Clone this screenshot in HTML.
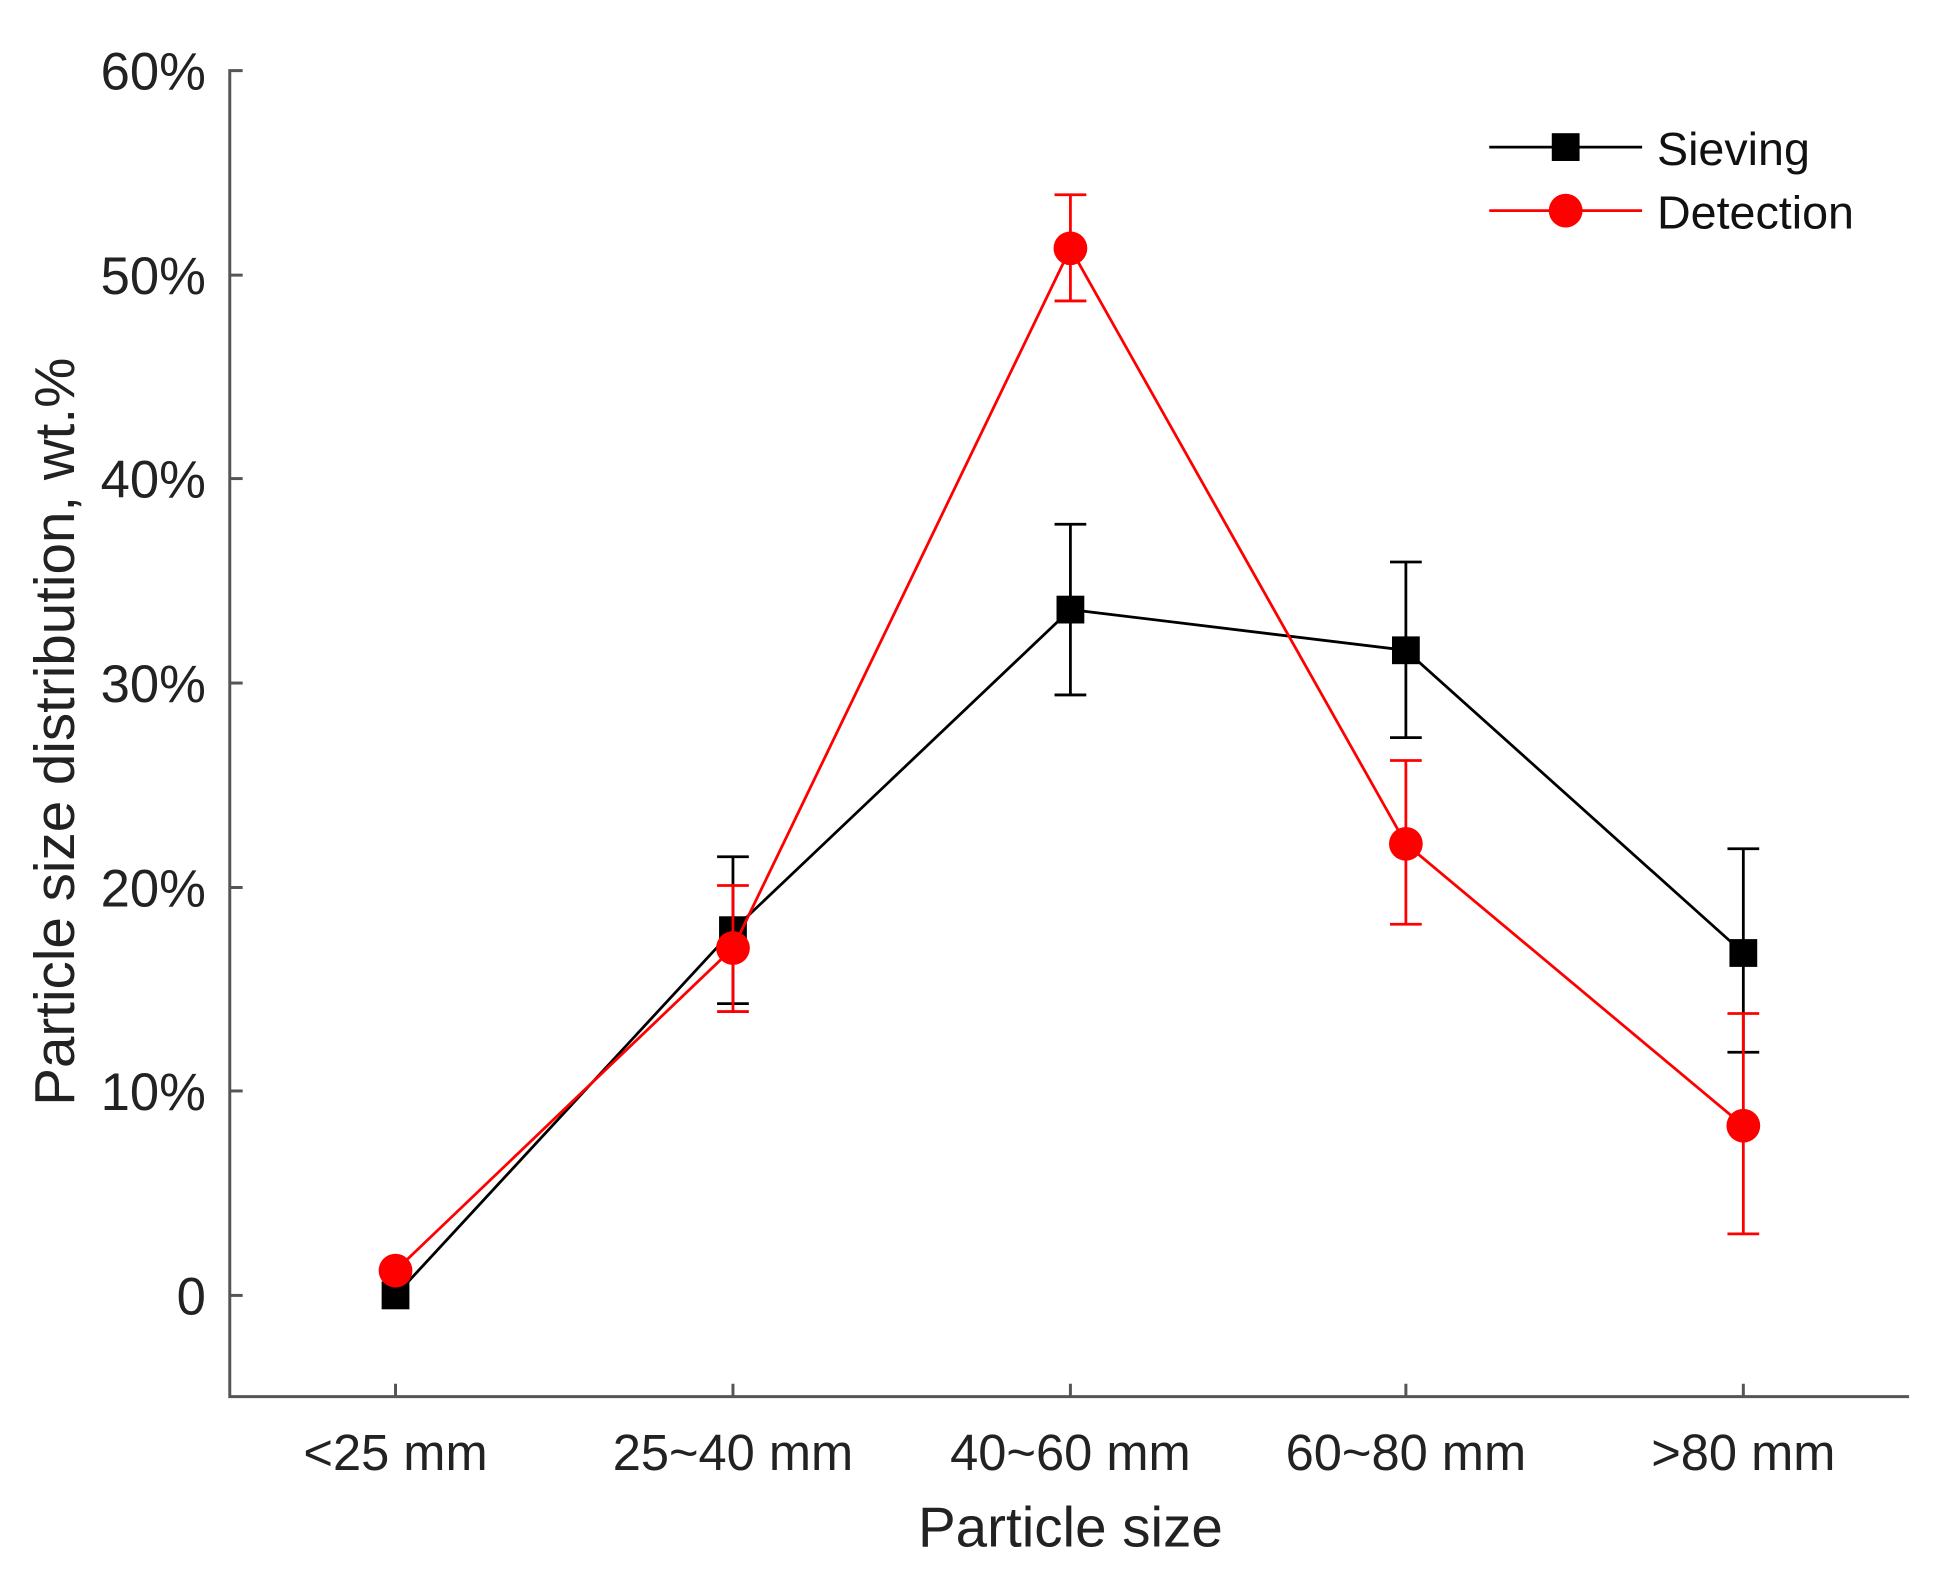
<!DOCTYPE html>
<html><head><meta charset="utf-8"><style>html,body{margin:0;padding:0;background:#fff}svg{display:block}</style></head>
<body>
<svg width="1942" height="1579" viewBox="0 0 1942 1579" xmlns="http://www.w3.org/2000/svg" font-family="Liberation Sans, sans-serif">
<g transform="translate(0.5,0.2) scale(0.9925)">
<g stroke="#555" stroke-width="3" fill="none">
<polyline points="244,71 231,71 231,1407 1923,1407"/>
<line x1="231" y1="277" x2="244" y2="277"/>
<line x1="231" y1="482" x2="244" y2="482"/>
<line x1="231" y1="688" x2="244" y2="688"/>
<line x1="231" y1="894" x2="244" y2="894"/>
<line x1="231" y1="1099" x2="244" y2="1099"/>
<line x1="231" y1="1305" x2="244" y2="1305"/>
<line x1="398" y1="1407" x2="398" y2="1394"/>
<line x1="738" y1="1407" x2="738" y2="1394"/>
<line x1="1078" y1="1407" x2="1078" y2="1394"/>
<line x1="1416" y1="1407" x2="1416" y2="1394"/>
<line x1="1756" y1="1407" x2="1756" y2="1394"/>
</g>
<g font-size="53" fill="#222" text-anchor="end">
<text x="207" y="90">60%</text>
<text x="207" y="296">50%</text>
<text x="207" y="501">40%</text>
<text x="207" y="707">30%</text>
<text x="207" y="913">20%</text>
<text x="207" y="1118">10%</text>
<text x="207" y="1324">0</text>
</g>
<g font-size="51" fill="#222" text-anchor="middle">
<text x="398" y="1481">&lt;25 mm</text>
<text x="738" y="1481">25~40 mm</text>
<text x="1078" y="1481">40~60 mm</text>
<text x="1416" y="1481">60~80 mm</text>
<text x="1756" y="1481">&gt;80 mm</text>
<text x="1078" y="1558" font-size="57">Particle size</text>
<text transform="translate(74,737) rotate(-90)" font-size="57">Particle size distribution, wt.%</text>
</g>
<g stroke="#000" stroke-width="2.8" fill="none">
<polyline points="398,1305 738,937 1078,614 1416,655 1756,960"/>
<line x1="738" y1="863" x2="738" y2="1011"/><line x1="722" y1="863" x2="754" y2="863"/><line x1="722" y1="1011" x2="754" y2="1011"/>
<line x1="1078" y1="528" x2="1078" y2="700"/><line x1="1062" y1="528" x2="1094" y2="528"/><line x1="1062" y1="700" x2="1094" y2="700"/>
<line x1="1416" y1="566" x2="1416" y2="743"/><line x1="1400" y1="566" x2="1432" y2="566"/><line x1="1400" y1="743" x2="1432" y2="743"/>
<line x1="1756" y1="855" x2="1756" y2="1060"/><line x1="1740" y1="855" x2="1772" y2="855"/><line x1="1740" y1="1060" x2="1772" y2="1060"/>
</g>
<g fill="#000">
<rect x="384" y="1291" width="28" height="28"/>
<rect x="724" y="923" width="28" height="28"/>
<rect x="1064" y="600" width="28" height="28"/>
<rect x="1402" y="641" width="28" height="28"/>
<rect x="1742" y="946" width="28" height="28"/>
</g>
<g stroke="#f00" stroke-width="2.8" fill="none">
<polyline points="398,1280 738,955 1078,250 1416,850 1756,1134"/>
<line x1="738" y1="892" x2="738" y2="1019"/><line x1="722" y1="892" x2="754" y2="892"/><line x1="722" y1="1019" x2="754" y2="1019"/>
<line x1="1078" y1="196" x2="1078" y2="303"/><line x1="1062" y1="196" x2="1094" y2="196"/><line x1="1062" y1="303" x2="1094" y2="303"/>
<line x1="1416" y1="766" x2="1416" y2="931"/><line x1="1400" y1="766" x2="1432" y2="766"/><line x1="1400" y1="931" x2="1432" y2="931"/>
<line x1="1756" y1="1021" x2="1756" y2="1243"/><line x1="1740" y1="1021" x2="1772" y2="1021"/><line x1="1740" y1="1243" x2="1772" y2="1243"/>
</g>
<g fill="#f00">
<circle cx="398" cy="1280" r="17"/>
<circle cx="738" cy="955" r="17"/>
<circle cx="1078" cy="250" r="17"/>
<circle cx="1416" cy="850" r="17"/>
<circle cx="1756" cy="1134" r="17"/>
</g>
<g transform="translate(11,0)">
<line x1="1489" y1="148" x2="1643" y2="148" stroke="#000" stroke-width="2.8"/>
<rect x="1552" y="134" width="28" height="28" fill="#000"/>
<line x1="1489" y1="212" x2="1643" y2="212" stroke="#f00" stroke-width="2.8"/>
<circle cx="1566" cy="212" r="17" fill="#f00"/>
<g font-size="47" fill="#111">
<text x="1658" y="166">Sieving</text>
<text x="1658" y="230">Detection</text>
</g>
</g>
</g>
</svg>
</body></html>
